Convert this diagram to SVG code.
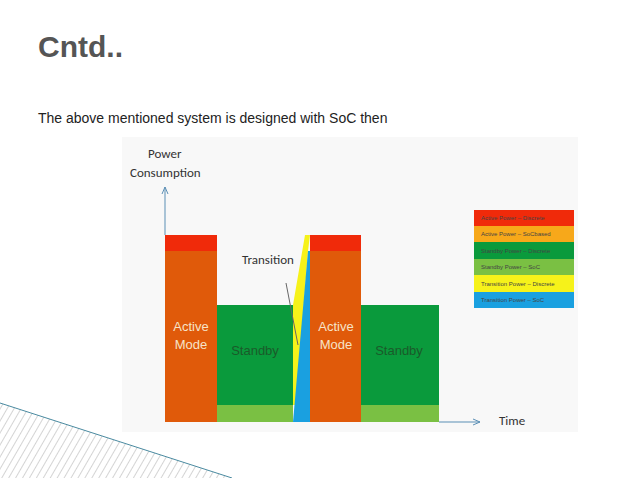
<svg xmlns="http://www.w3.org/2000/svg" width="638" height="478" viewBox="0 0 638 478">
<defs>
<pattern id="hatch" width="6" height="6" patternUnits="userSpaceOnUse" patternTransform="rotate(30)">
<line x1="0" y1="0" x2="0" y2="6" stroke="#aaa" stroke-width="1"/>
</pattern>
<marker id="ah" markerWidth="8" markerHeight="8" refX="7" refY="4" orient="auto"><path d="M0,1 L7,4 L0,7" fill="none" stroke="#5b8fb5" stroke-width="1"/></marker>
<clipPath id="cp"><polygon points="0,403 232,478 0,478"/></clipPath>
</defs>
<style>
.lbl{font-family:Calibri,"Liberation Sans",sans-serif;font-size:13px;fill:#333}
.w{font-family:"Liberation Sans",sans-serif;font-size:13px;fill:#f6e3c8;text-anchor:middle}
.sb{font-family:"Liberation Sans",sans-serif;font-size:13px;fill:#1a5a2a;text-anchor:middle}
.lg{font-family:"Liberation Sans",sans-serif;font-size:6px;fill:#444}
</style>
<rect width="638" height="478" fill="#fff"/>
<text x="38" y="57" font-family="Liberation Sans,sans-serif" font-weight="bold" font-size="30" fill="#555">Cntd..</text>
<text x="38" y="123" font-family="Liberation Sans,sans-serif" font-size="14" fill="#222">The above mentioned system is designed with SoC then</text>
<rect x="122" y="137" width="456" height="295" fill="#f8f8f8"/>
<g id="active1"><rect x="165" y="235" width="52" height="16" fill="#f02a0a"/><rect x="165" y="251" width="52" height="171" fill="#e05a0a"/><text class="w" x="191" y="331">Active</text><text class="w" x="191" y="349">Mode</text></g>
<g id="standby1"><rect x="217" y="305" width="76" height="100" fill="#0a9a3c"/><rect x="217" y="405" width="76" height="17" fill="#7ac043"/><text class="sb" x="255" y="355">Standby</text></g>
<g id="transition"><polygon points="293,305 305,235 310,235 308,251 296,405 293,405" fill="#f6f21a"/><polygon points="293,422 310,422 310,251 308,251" fill="#1aa0e0"/><text class="lbl" x="242" y="264" font-size="13">Transition</text></g>
<g id="active2"><rect x="310" y="235" width="51" height="16" fill="#f02a0a"/><rect x="310" y="251" width="51" height="171" fill="#e05a0a"/><text class="w" x="336" y="331">Active</text><text class="w" x="336" y="349">Mode</text></g>
<g id="standby2"><rect x="361" y="305" width="78" height="100" fill="#0a9a3c"/><rect x="361" y="405" width="78" height="17" fill="#7ac043"/><text class="sb" x="399" y="355">Standby</text></g>
<g id="connectors" stroke="#5b8fb5" stroke-width="1" fill="none">
<line x1="165" y1="235" x2="165" y2="187" marker-end="url(#ah)"/>
<line x1="439" y1="422" x2="480" y2="422" marker-end="url(#ah)"/>
<line x1="286" y1="283" x2="298" y2="345" stroke="#666"/>
</g>
<text class="lbl" x="148" y="158">Power</text>
<text class="lbl" x="130" y="177">Consumption</text>
<text class="lbl" x="499" y="425">Time</text>
<g id="legend">
<rect x="474" y="210" width="100" height="16" fill="#f02a0a"/>
<rect x="474" y="226" width="100" height="16" fill="#f7a81a"/>
<rect x="474" y="242" width="100" height="17" fill="#0a9a3c"/>
<rect x="474" y="259" width="100" height="16" fill="#7ac043"/>
<rect x="474" y="275" width="100" height="17" fill="#f6f21a"/>
<rect x="474" y="292" width="100" height="16" fill="#1aa0e0"/>
<text class="lg" x="481" y="220">Active Power – Discrete</text>
<text class="lg" x="481" y="236">Active Power – SoCbased</text>
<text class="lg" x="481" y="253">Standby Power – Discrete</text>
<text class="lg" x="481" y="269">Standby Power – SoC</text>
<text class="lg" x="481" y="286">Transition Power – Discrete</text>
<text class="lg" x="481" y="302">Transition Power – SoC</text>
</g>
<rect x="0" y="400" width="240" height="78" fill="url(#hatch)" clip-path="url(#cp)"/>
<line x1="0" y1="403" x2="232" y2="478" stroke="#4a8aa0" stroke-width="1"/>
</svg>
